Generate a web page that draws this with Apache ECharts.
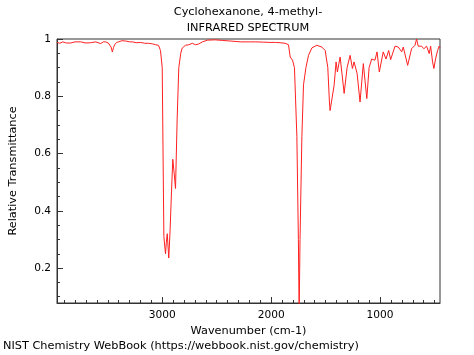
<!DOCTYPE html>
<html>
<head>
<meta charset="utf-8">
<script src="https://cdn.jsdelivr.net/npm/echarts@6/dist/echarts.min.js"></script>
<style>
html,body{margin:0;padding:0;background:#fff;}
#c{width:474px;height:355px;}
</style>
</head>
<body>
<div id="c"></div>
<script>
const titleLine1 = "Cyclohexanone, 4-methyl-";
const titleLine2 = "INFRARED SPECTRUM";
const xAxisTitle = "Wavenumber (cm-1)";
const yAxisTitle = "Relative Transmittance";
const sourceNote = "NIST Chemistry WebBook (https://webbook.nist.gov/chemistry)";

const xLabelValues = [1000, 2000, 3000];
const yLabelValues = [0.2, 0.4, 0.6, 0.8, 1];

const wavenumbers = [
 3966, 3940, 3913, 3880, 3840, 3800, 3748, 3700, 3657, 3610, 3565, 3540, 3519, 3495, 3483, 3470, 3458, 3447, 3437, 3420,
 3400, 3370, 3336, 3300, 3272, 3240, 3199, 3160, 3125, 3090, 3061, 3034, 3016, 3000, 2985, 2970, 2962, 2954, 2940, 2928,
 2915, 2903, 2890, 2878, 2863, 2848, 2830, 2817, 2787, 2756, 2723, 2695, 2668, 2631, 2585, 2512, 2448, 2375, 2283, 2200,
 2146, 2070, 2009, 1960, 1918, 1872, 1841, 1825, 1804, 1786, 1764, 1750, 1743, 1735, 1718, 1703, 1681, 1657, 1626, 1581,
 1535, 1504, 1480, 1465, 1459, 1451, 1443, 1422, 1404, 1392, 1367, 1350, 1330, 1303, 1275, 1254, 1239, 1211, 1184, 1154,
 1122, 1101, 1077, 1062, 1047, 1028, 1007, 971, 946, 921, 903, 863, 833, 802, 787, 747, 711, 680, 665, 650,
 619, 598, 573, 549, 536, 518, 506, 491, 472, 458, 450
];
const transmittance = [
 0.988, 0.985, 0.99, 0.986, 0.986, 0.99, 0.99, 0.986, 0.987, 0.99, 0.984, 0.99, 0.99, 0.986, 0.982, 0.972, 0.955, 0.97, 0.98, 0.988,
 0.99, 0.994, 0.993, 0.99, 0.99, 0.987, 0.988, 0.985, 0.985, 0.983, 0.98, 0.978, 0.96, 0.9, 0.31, 0.25, 0.29, 0.32, 0.235, 0.33,
 0.466, 0.58, 0.53, 0.478, 0.72, 0.9, 0.95, 0.968, 0.978, 0.98, 0.985, 0.98, 0.982, 0.99, 0.996, 0.997, 0.995, 0.993, 0.99, 0.99,
 0.99, 0.989, 0.988, 0.988, 0.987, 0.985, 0.98, 0.937, 0.926, 0.9, 0.66, 0.3, 0.04, 0.3, 0.66, 0.84, 0.9, 0.943, 0.969, 0.978,
 0.972, 0.96, 0.9, 0.78, 0.75, 0.755, 0.748, 0.838, 0.92, 0.885, 0.937, 0.88, 0.81, 0.9, 0.943, 0.897, 0.92, 0.88, 0.78, 0.914,
 0.792, 0.9, 0.93, 0.93, 0.926, 0.955, 0.885, 0.955, 0.93, 0.96, 0.928, 0.975, 0.972, 0.955, 0.972, 0.908, 0.966, 0.978, 1.0, 0.975,
 0.975, 0.966, 0.975, 0.949, 0.975, 0.92, 0.897, 0.93, 0.96, 0.975, 0.97
];

const xMinorTicks = [];
for (let v = 500; v <= 3900; v += 100) xMinorTicks.push(v);
const yMinorTicks = [];
for (let k = 2; k <= 20; k++) yMinorTicks.push(+(k * 0.05).toFixed(2));

const seriesData = wavenumbers.map((w, i) => [w, transmittance[i]]);

const chart = echarts.init(document.getElementById('c'), null, {renderer: 'canvas'});
const font = 'DejaVu Sans';
const axisColor = '#333';
const txt = 11.3;
const tick = 10.6;

chart.setOption({
  animation: false,
  backgroundColor: '#fff',
  textStyle: {fontFamily: font},
  title: [
    {text: titleLine1, left: 248, top: 7, padding: 0, textAlign: 'center',
     textStyle: {fontFamily: font, fontSize: txt, fontWeight: 'normal', color: '#000'}},
    {text: titleLine2, left: 248, top: 23, padding: 0, textAlign: 'center',
     textStyle: {fontFamily: font, fontSize: txt, fontWeight: 'normal', color: '#000'}},
    {text: sourceNote, left: 3, top: 341, padding: 0,
     textStyle: {fontFamily: font, fontSize: txt, fontWeight: 'normal', color: '#000'}}
  ],
  grid: {left: 56, right: 34, top: 39, bottom: 52, show: true, borderColor: axisColor, borderWidth: 1, backgroundColor: 'transparent'},
  xAxis: [
    {type: 'value', inverse: true, min: 450, max: 3966, position: 'bottom',
     name: xAxisTitle, nameLocation: 'middle', nameGap: 20,
     nameTextStyle: {fontFamily: font, fontSize: txt, color: '#000'},
     axisLine: {show: true, lineStyle: {color: axisColor, width: 1}},
     axisTick: {show: true, inside: true, length: 3, customValues: xMinorTicks, lineStyle: {color: axisColor}},
     axisLabel: {show: true, customValues: xLabelValues, fontFamily: font, fontSize: tick, color: '#000', margin: 7,
                 formatter: v => String(v)},
     splitLine: {show: false}},
    {type: 'value', inverse: true, min: 450, max: 3966, position: 'bottom', offset: 0,
     axisLine: {show: false},
     axisTick: {show: true, inside: true, length: 6, customValues: xLabelValues, lineStyle: {color: axisColor}},
     axisLabel: {show: false},
     splitLine: {show: false}}
  ],
  yAxis: [
    {type: 'value', min: 0.078, max: 1.0, position: 'left',
     name: yAxisTitle, nameLocation: 'middle', nameGap: 38, nameRotate: 90,
     nameTextStyle: {fontFamily: font, fontSize: txt, color: '#000'},
     axisLine: {show: true, lineStyle: {color: axisColor, width: 1}},
     axisTick: {show: true, inside: true, length: 3, customValues: yMinorTicks, lineStyle: {color: axisColor}},
     axisLabel: {show: true, customValues: yLabelValues, fontFamily: font, fontSize: tick, color: '#000', margin: 6,
                 formatter: v => String(+v.toFixed(2))},
     splitLine: {show: false}},
    {type: 'value', min: 0.078, max: 1.0, position: 'left', offset: 0,
     axisLine: {show: false},
     axisTick: {show: true, inside: true, length: 6, customValues: yLabelValues, lineStyle: {color: axisColor}},
     axisLabel: {show: false},
     splitLine: {show: false}}
  ],
  series: [{
    type: 'line', xAxisIndex: 0, yAxisIndex: 0, data: seriesData,
    showSymbol: false, symbol: 'none', clip: true,
    lineStyle: {color: '#ff2020', width: 1},
    smooth: false
  }]
});
</script>
</body>
</html>
